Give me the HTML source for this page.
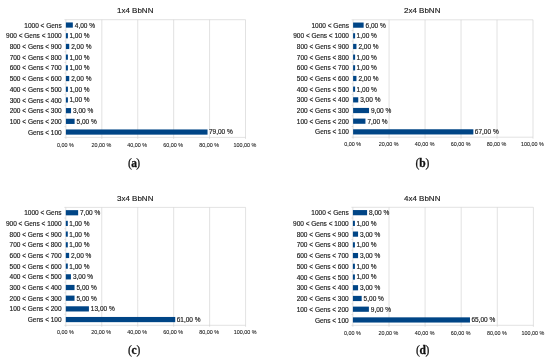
<!DOCTYPE html>
<html><head><meta charset="utf-8"><title>BbNN charts</title>
<style>html,body{margin:0;padding:0;background:#fff;width:550px;height:361px;overflow:hidden}</style>
</head><body>
<svg width="550" height="361" viewBox="0 0 550 361" style="display:block;position:absolute;left:0;top:0">
<rect width="550" height="361" fill="#fff"/>
<g font-family="Liberation Sans, Arial, sans-serif" fill="#1a1a1a" stroke="#1a1a1a" stroke-width="0.16" stroke-linejoin="round">
<line x1="65.90" y1="19.7" x2="65.90" y2="138.9" stroke="#cfcfcf" stroke-width="0.6"/>
<text x="65.40" y="146.60" font-size="5.4" text-anchor="middle" stroke-width="0.08">0,00 %</text>
<line x1="101.82" y1="19.7" x2="101.82" y2="138.9" stroke="#cfcfcf" stroke-width="0.6"/>
<text x="101.32" y="146.60" font-size="5.4" text-anchor="middle" stroke-width="0.08">20,00 %</text>
<line x1="137.74" y1="19.7" x2="137.74" y2="138.9" stroke="#cfcfcf" stroke-width="0.6"/>
<text x="137.24" y="146.60" font-size="5.4" text-anchor="middle" stroke-width="0.08">40,00 %</text>
<line x1="173.66" y1="19.7" x2="173.66" y2="138.9" stroke="#cfcfcf" stroke-width="0.6"/>
<text x="173.16" y="146.60" font-size="5.4" text-anchor="middle" stroke-width="0.08">60,00 %</text>
<line x1="209.58" y1="19.7" x2="209.58" y2="138.9" stroke="#cfcfcf" stroke-width="0.6"/>
<text x="209.08" y="146.60" font-size="5.4" text-anchor="middle" stroke-width="0.08">80,00 %</text>
<line x1="245.50" y1="19.7" x2="245.50" y2="138.9" stroke="#cfcfcf" stroke-width="0.6"/>
<text x="245.00" y="146.60" font-size="5.4" text-anchor="middle" stroke-width="0.08">100,00 %</text>
<line x1="65.9" y1="19.7" x2="245.5" y2="19.7" stroke="#cfcfcf" stroke-width="0.6"/>
<line x1="64.4" y1="137.4" x2="245.5" y2="137.4" stroke="#cfcfcf" stroke-width="0.6"/>
<line x1="64.4" y1="19.70" x2="65.9" y2="19.70" stroke="#cfcfcf" stroke-width="0.6"/>
<rect x="65.9" y="22.45" width="6.93" height="5.2" fill="#004586" stroke="none"/>
<text x="61.70" y="27.65" font-size="6.5" text-anchor="end">1000 &lt; Gens</text>
<text x="74.78" y="27.50" font-size="6.5">4,00 %</text>
<line x1="64.4" y1="30.40" x2="65.9" y2="30.40" stroke="#cfcfcf" stroke-width="0.6"/>
<rect x="65.9" y="33.15" width="2.00" height="5.2" fill="#004586" stroke="none"/>
<text x="61.70" y="38.35" font-size="6.5" text-anchor="end">900 &lt; Gens &lt; 1000</text>
<text x="69.40" y="38.20" font-size="6.5">1,00 %</text>
<line x1="64.4" y1="41.10" x2="65.9" y2="41.10" stroke="#cfcfcf" stroke-width="0.6"/>
<rect x="65.9" y="43.85" width="3.34" height="5.2" fill="#004586" stroke="none"/>
<text x="61.70" y="49.05" font-size="6.5" text-anchor="end">800 &lt; Gens &lt; 900</text>
<text x="71.19" y="48.90" font-size="6.5">2,00 %</text>
<line x1="64.4" y1="51.80" x2="65.9" y2="51.80" stroke="#cfcfcf" stroke-width="0.6"/>
<rect x="65.9" y="54.55" width="2.00" height="5.2" fill="#004586" stroke="none"/>
<text x="61.70" y="59.75" font-size="6.5" text-anchor="end">700 &lt; Gens &lt; 800</text>
<text x="69.40" y="59.60" font-size="6.5">1,00 %</text>
<line x1="64.4" y1="62.50" x2="65.9" y2="62.50" stroke="#cfcfcf" stroke-width="0.6"/>
<rect x="65.9" y="65.25" width="2.00" height="5.2" fill="#004586" stroke="none"/>
<text x="61.70" y="70.45" font-size="6.5" text-anchor="end">600 &lt; Gens &lt; 700</text>
<text x="69.40" y="70.30" font-size="6.5">1,00 %</text>
<line x1="64.4" y1="73.20" x2="65.9" y2="73.20" stroke="#cfcfcf" stroke-width="0.6"/>
<rect x="65.9" y="75.95" width="3.34" height="5.2" fill="#004586" stroke="none"/>
<text x="61.70" y="81.15" font-size="6.5" text-anchor="end">500 &lt; Gens &lt; 600</text>
<text x="71.19" y="81.00" font-size="6.5">2,00 %</text>
<line x1="64.4" y1="83.90" x2="65.9" y2="83.90" stroke="#cfcfcf" stroke-width="0.6"/>
<rect x="65.9" y="86.65" width="2.00" height="5.2" fill="#004586" stroke="none"/>
<text x="61.70" y="91.85" font-size="6.5" text-anchor="end">400 &lt; Gens &lt; 500</text>
<text x="69.40" y="91.70" font-size="6.5">1,00 %</text>
<line x1="64.4" y1="94.60" x2="65.9" y2="94.60" stroke="#cfcfcf" stroke-width="0.6"/>
<rect x="65.9" y="97.35" width="2.00" height="5.2" fill="#004586" stroke="none"/>
<text x="61.70" y="102.55" font-size="6.5" text-anchor="end">300 &lt; Gens &lt; 400</text>
<text x="69.40" y="102.40" font-size="6.5">1,00 %</text>
<line x1="64.4" y1="105.30" x2="65.9" y2="105.30" stroke="#cfcfcf" stroke-width="0.6"/>
<rect x="65.9" y="108.05" width="5.14" height="5.2" fill="#004586" stroke="none"/>
<text x="61.70" y="113.25" font-size="6.5" text-anchor="end">200 &lt; Gens &lt; 300</text>
<text x="72.99" y="113.10" font-size="6.5">3,00 %</text>
<line x1="64.4" y1="116.00" x2="65.9" y2="116.00" stroke="#cfcfcf" stroke-width="0.6"/>
<rect x="65.9" y="118.75" width="8.73" height="5.2" fill="#004586" stroke="none"/>
<text x="61.70" y="123.95" font-size="6.5" text-anchor="end">100 &lt; Gens &lt; 200</text>
<text x="76.58" y="123.80" font-size="6.5">5,00 %</text>
<line x1="64.4" y1="126.70" x2="65.9" y2="126.70" stroke="#cfcfcf" stroke-width="0.6"/>
<rect x="65.9" y="129.45" width="141.63" height="5.2" fill="#004586" stroke="none"/>
<text x="61.70" y="134.65" font-size="6.5" text-anchor="end">Gens &lt; 100</text>
<text x="208.98" y="134.25" font-size="6.5">79,00 %</text>
<text x="135.2" y="13.2" font-size="8.0" text-anchor="middle">1x4 BbNN</text>
</g>
<text x="133.7" y="167" font-family="Liberation Serif, DejaVu Serif, serif" font-weight="bold" font-size="11.5" letter-spacing="-0.7" text-anchor="middle" fill="#111"><tspan font-size="11.6" font-weight="normal" stroke="#111" stroke-width="0.22">(</tspan><tspan stroke="#111" stroke-width="0.3">a</tspan><tspan font-size="11.6" font-weight="normal" stroke="#111" stroke-width="0.22">)</tspan></text>
<g font-family="Liberation Sans, Arial, sans-serif" fill="#1a1a1a" stroke="#1a1a1a" stroke-width="0.16" stroke-linejoin="round">
<line x1="353.10" y1="19.8" x2="353.10" y2="138.7" stroke="#cfcfcf" stroke-width="0.6"/>
<text x="352.60" y="146.20" font-size="5.4" text-anchor="middle" stroke-width="0.08">0,00 %</text>
<line x1="389.08" y1="19.8" x2="389.08" y2="138.7" stroke="#cfcfcf" stroke-width="0.6"/>
<text x="388.58" y="146.20" font-size="5.4" text-anchor="middle" stroke-width="0.08">20,00 %</text>
<line x1="425.06" y1="19.8" x2="425.06" y2="138.7" stroke="#cfcfcf" stroke-width="0.6"/>
<text x="424.56" y="146.20" font-size="5.4" text-anchor="middle" stroke-width="0.08">40,00 %</text>
<line x1="461.04" y1="19.8" x2="461.04" y2="138.7" stroke="#cfcfcf" stroke-width="0.6"/>
<text x="460.54" y="146.20" font-size="5.4" text-anchor="middle" stroke-width="0.08">60,00 %</text>
<line x1="497.02" y1="19.8" x2="497.02" y2="138.7" stroke="#cfcfcf" stroke-width="0.6"/>
<text x="496.52" y="146.20" font-size="5.4" text-anchor="middle" stroke-width="0.08">80,00 %</text>
<line x1="533.00" y1="19.8" x2="533.00" y2="138.7" stroke="#cfcfcf" stroke-width="0.6"/>
<text x="532.50" y="146.20" font-size="5.4" text-anchor="middle" stroke-width="0.08">100,00 %</text>
<line x1="353.1" y1="19.8" x2="533.0" y2="19.8" stroke="#cfcfcf" stroke-width="0.6"/>
<line x1="351.6" y1="137.2" x2="533.0" y2="137.2" stroke="#cfcfcf" stroke-width="0.6"/>
<line x1="351.6" y1="19.80" x2="353.1" y2="19.80" stroke="#cfcfcf" stroke-width="0.6"/>
<rect x="353.1" y="22.54" width="10.54" height="5.2" fill="#004586" stroke="none"/>
<text x="348.90" y="27.74" font-size="6.5" text-anchor="end">1000 &lt; Gens</text>
<text x="365.59" y="27.59" font-size="6.5">6,00 %</text>
<line x1="351.6" y1="30.47" x2="353.1" y2="30.47" stroke="#cfcfcf" stroke-width="0.6"/>
<rect x="353.1" y="33.21" width="2.00" height="5.2" fill="#004586" stroke="none"/>
<text x="348.90" y="38.41" font-size="6.5" text-anchor="end">900 &lt; Gens &lt; 1000</text>
<text x="356.60" y="38.26" font-size="6.5">1,00 %</text>
<line x1="351.6" y1="41.15" x2="353.1" y2="41.15" stroke="#cfcfcf" stroke-width="0.6"/>
<rect x="353.1" y="43.88" width="3.35" height="5.2" fill="#004586" stroke="none"/>
<text x="348.90" y="49.08" font-size="6.5" text-anchor="end">800 &lt; Gens &lt; 900</text>
<text x="358.40" y="48.93" font-size="6.5">2,00 %</text>
<line x1="351.6" y1="51.82" x2="353.1" y2="51.82" stroke="#cfcfcf" stroke-width="0.6"/>
<rect x="353.1" y="54.55" width="2.00" height="5.2" fill="#004586" stroke="none"/>
<text x="348.90" y="59.75" font-size="6.5" text-anchor="end">700 &lt; Gens &lt; 800</text>
<text x="356.60" y="59.60" font-size="6.5">1,00 %</text>
<line x1="351.6" y1="62.49" x2="353.1" y2="62.49" stroke="#cfcfcf" stroke-width="0.6"/>
<rect x="353.1" y="65.23" width="2.00" height="5.2" fill="#004586" stroke="none"/>
<text x="348.90" y="70.43" font-size="6.5" text-anchor="end">600 &lt; Gens &lt; 700</text>
<text x="356.60" y="70.28" font-size="6.5">1,00 %</text>
<line x1="351.6" y1="73.16" x2="353.1" y2="73.16" stroke="#cfcfcf" stroke-width="0.6"/>
<rect x="353.1" y="75.90" width="3.35" height="5.2" fill="#004586" stroke="none"/>
<text x="348.90" y="81.10" font-size="6.5" text-anchor="end">500 &lt; Gens &lt; 600</text>
<text x="358.40" y="80.95" font-size="6.5">2,00 %</text>
<line x1="351.6" y1="83.84" x2="353.1" y2="83.84" stroke="#cfcfcf" stroke-width="0.6"/>
<rect x="353.1" y="86.57" width="2.00" height="5.2" fill="#004586" stroke="none"/>
<text x="348.90" y="91.77" font-size="6.5" text-anchor="end">400 &lt; Gens &lt; 500</text>
<text x="356.60" y="91.62" font-size="6.5">1,00 %</text>
<line x1="351.6" y1="94.51" x2="353.1" y2="94.51" stroke="#cfcfcf" stroke-width="0.6"/>
<rect x="353.1" y="97.25" width="5.15" height="5.2" fill="#004586" stroke="none"/>
<text x="348.90" y="102.45" font-size="6.5" text-anchor="end">300 &lt; Gens &lt; 400</text>
<text x="360.20" y="102.30" font-size="6.5">3,00 %</text>
<line x1="351.6" y1="105.18" x2="353.1" y2="105.18" stroke="#cfcfcf" stroke-width="0.6"/>
<rect x="353.1" y="107.92" width="15.94" height="5.2" fill="#004586" stroke="none"/>
<text x="348.90" y="113.12" font-size="6.5" text-anchor="end">200 &lt; Gens &lt; 300</text>
<text x="370.99" y="112.97" font-size="6.5">9,00 %</text>
<line x1="351.6" y1="115.85" x2="353.1" y2="115.85" stroke="#cfcfcf" stroke-width="0.6"/>
<rect x="353.1" y="118.59" width="12.34" height="5.2" fill="#004586" stroke="none"/>
<text x="348.90" y="123.79" font-size="6.5" text-anchor="end">100 &lt; Gens &lt; 200</text>
<text x="367.39" y="123.64" font-size="6.5">7,00 %</text>
<line x1="351.6" y1="126.53" x2="353.1" y2="126.53" stroke="#cfcfcf" stroke-width="0.6"/>
<rect x="353.1" y="129.26" width="120.28" height="5.2" fill="#004586" stroke="none"/>
<text x="348.90" y="134.46" font-size="6.5" text-anchor="end">Gens &lt; 100</text>
<text x="474.83" y="134.06" font-size="6.5">67,00 %</text>
<text x="422.2" y="13.4" font-size="8.0" text-anchor="middle">2x4 BbNN</text>
</g>
<text x="422.3" y="166.5" font-family="Liberation Serif, DejaVu Serif, serif" font-weight="bold" font-size="11.5" letter-spacing="-0.1" text-anchor="middle" fill="#111"><tspan font-size="11.6" font-weight="normal" stroke="#111" stroke-width="0.22">(</tspan><tspan stroke="#111" stroke-width="0.3">b</tspan><tspan font-size="11.6" font-weight="normal" stroke="#111" stroke-width="0.22">)</tspan></text>
<g font-family="Liberation Sans, Arial, sans-serif" fill="#1a1a1a" stroke="#1a1a1a" stroke-width="0.16" stroke-linejoin="round">
<line x1="65.80" y1="207.4" x2="65.80" y2="326.79999999999995" stroke="#cfcfcf" stroke-width="0.6"/>
<text x="65.30" y="334.20" font-size="5.4" text-anchor="middle" stroke-width="0.08">0,00 %</text>
<line x1="101.76" y1="207.4" x2="101.76" y2="326.79999999999995" stroke="#cfcfcf" stroke-width="0.6"/>
<text x="101.26" y="334.20" font-size="5.4" text-anchor="middle" stroke-width="0.08">20,00 %</text>
<line x1="137.72" y1="207.4" x2="137.72" y2="326.79999999999995" stroke="#cfcfcf" stroke-width="0.6"/>
<text x="137.22" y="334.20" font-size="5.4" text-anchor="middle" stroke-width="0.08">40,00 %</text>
<line x1="173.68" y1="207.4" x2="173.68" y2="326.79999999999995" stroke="#cfcfcf" stroke-width="0.6"/>
<text x="173.18" y="334.20" font-size="5.4" text-anchor="middle" stroke-width="0.08">60,00 %</text>
<line x1="209.64" y1="207.4" x2="209.64" y2="326.79999999999995" stroke="#cfcfcf" stroke-width="0.6"/>
<text x="209.14" y="334.20" font-size="5.4" text-anchor="middle" stroke-width="0.08">80,00 %</text>
<line x1="245.60" y1="207.4" x2="245.60" y2="326.79999999999995" stroke="#cfcfcf" stroke-width="0.6"/>
<text x="245.10" y="334.20" font-size="5.4" text-anchor="middle" stroke-width="0.08">100,00 %</text>
<line x1="65.8" y1="207.4" x2="245.6" y2="207.4" stroke="#cfcfcf" stroke-width="0.6"/>
<line x1="64.3" y1="325.29999999999995" x2="245.6" y2="325.29999999999995" stroke="#cfcfcf" stroke-width="0.6"/>
<line x1="64.3" y1="207.40" x2="65.8" y2="207.40" stroke="#cfcfcf" stroke-width="0.6"/>
<rect x="65.8" y="210.14" width="12.34" height="5.2" fill="#004586" stroke="none"/>
<text x="61.60" y="215.34" font-size="6.5" text-anchor="end">1000 &lt; Gens</text>
<text x="80.09" y="215.19" font-size="6.5">7,00 %</text>
<line x1="64.3" y1="218.08" x2="65.8" y2="218.08" stroke="#cfcfcf" stroke-width="0.6"/>
<rect x="65.8" y="220.82" width="2.00" height="5.2" fill="#004586" stroke="none"/>
<text x="61.60" y="226.02" font-size="6.5" text-anchor="end">900 &lt; Gens &lt; 1000</text>
<text x="69.30" y="225.87" font-size="6.5">1,00 %</text>
<line x1="64.3" y1="228.76" x2="65.8" y2="228.76" stroke="#cfcfcf" stroke-width="0.6"/>
<rect x="65.8" y="231.50" width="2.00" height="5.2" fill="#004586" stroke="none"/>
<text x="61.60" y="236.70" font-size="6.5" text-anchor="end">800 &lt; Gens &lt; 900</text>
<text x="69.30" y="236.55" font-size="6.5">1,00 %</text>
<line x1="64.3" y1="239.45" x2="65.8" y2="239.45" stroke="#cfcfcf" stroke-width="0.6"/>
<rect x="65.8" y="242.19" width="2.00" height="5.2" fill="#004586" stroke="none"/>
<text x="61.60" y="247.39" font-size="6.5" text-anchor="end">700 &lt; Gens &lt; 800</text>
<text x="69.30" y="247.24" font-size="6.5">1,00 %</text>
<line x1="64.3" y1="250.13" x2="65.8" y2="250.13" stroke="#cfcfcf" stroke-width="0.6"/>
<rect x="65.8" y="252.87" width="3.35" height="5.2" fill="#004586" stroke="none"/>
<text x="61.60" y="258.07" font-size="6.5" text-anchor="end">600 &lt; Gens &lt; 700</text>
<text x="71.10" y="257.92" font-size="6.5">2,00 %</text>
<line x1="64.3" y1="260.81" x2="65.8" y2="260.81" stroke="#cfcfcf" stroke-width="0.6"/>
<rect x="65.8" y="263.55" width="2.00" height="5.2" fill="#004586" stroke="none"/>
<text x="61.60" y="268.75" font-size="6.5" text-anchor="end">500 &lt; Gens &lt; 600</text>
<text x="69.30" y="268.60" font-size="6.5">1,00 %</text>
<line x1="64.3" y1="271.49" x2="65.8" y2="271.49" stroke="#cfcfcf" stroke-width="0.6"/>
<rect x="65.8" y="274.23" width="5.14" height="5.2" fill="#004586" stroke="none"/>
<text x="61.60" y="279.43" font-size="6.5" text-anchor="end">400 &lt; Gens &lt; 500</text>
<text x="72.89" y="279.28" font-size="6.5">3,00 %</text>
<line x1="64.3" y1="282.17" x2="65.8" y2="282.17" stroke="#cfcfcf" stroke-width="0.6"/>
<rect x="65.8" y="284.91" width="8.74" height="5.2" fill="#004586" stroke="none"/>
<text x="61.60" y="290.11" font-size="6.5" text-anchor="end">300 &lt; Gens &lt; 400</text>
<text x="76.49" y="289.96" font-size="6.5">5,00 %</text>
<line x1="64.3" y1="292.85" x2="65.8" y2="292.85" stroke="#cfcfcf" stroke-width="0.6"/>
<rect x="65.8" y="295.60" width="8.74" height="5.2" fill="#004586" stroke="none"/>
<text x="61.60" y="300.80" font-size="6.5" text-anchor="end">200 &lt; Gens &lt; 300</text>
<text x="76.49" y="300.65" font-size="6.5">5,00 %</text>
<line x1="64.3" y1="303.54" x2="65.8" y2="303.54" stroke="#cfcfcf" stroke-width="0.6"/>
<rect x="65.8" y="306.28" width="23.12" height="5.2" fill="#004586" stroke="none"/>
<text x="61.60" y="311.48" font-size="6.5" text-anchor="end">100 &lt; Gens &lt; 200</text>
<text x="90.87" y="311.33" font-size="6.5">13,00 %</text>
<line x1="64.3" y1="314.22" x2="65.8" y2="314.22" stroke="#cfcfcf" stroke-width="0.6"/>
<rect x="65.8" y="316.96" width="109.43" height="5.2" fill="#004586" stroke="none"/>
<text x="61.60" y="322.16" font-size="6.5" text-anchor="end">Gens &lt; 100</text>
<text x="176.68" y="321.76" font-size="6.5">61,00 %</text>
<text x="135.2" y="201.0" font-size="8.0" text-anchor="middle">3x4 BbNN</text>
</g>
<text x="134.0" y="354.3" font-family="Liberation Serif, DejaVu Serif, serif" font-weight="bold" font-size="11.5" letter-spacing="-0.35" text-anchor="middle" fill="#111"><tspan font-size="11.6" font-weight="normal" stroke="#111" stroke-width="0.22">(</tspan><tspan stroke="#111" stroke-width="0.3">c</tspan><tspan font-size="11.6" font-weight="normal" stroke="#111" stroke-width="0.22">)</tspan></text>
<g font-family="Liberation Sans, Arial, sans-serif" fill="#1a1a1a" stroke="#1a1a1a" stroke-width="0.16" stroke-linejoin="round">
<line x1="352.90" y1="207.3" x2="352.90" y2="326.8" stroke="#cfcfcf" stroke-width="0.6"/>
<text x="352.40" y="334.60" font-size="5.4" text-anchor="middle" stroke-width="0.08">0,00 %</text>
<line x1="389.00" y1="207.3" x2="389.00" y2="326.8" stroke="#cfcfcf" stroke-width="0.6"/>
<text x="388.50" y="334.60" font-size="5.4" text-anchor="middle" stroke-width="0.08">20,00 %</text>
<line x1="425.10" y1="207.3" x2="425.10" y2="326.8" stroke="#cfcfcf" stroke-width="0.6"/>
<text x="424.60" y="334.60" font-size="5.4" text-anchor="middle" stroke-width="0.08">40,00 %</text>
<line x1="461.20" y1="207.3" x2="461.20" y2="326.8" stroke="#cfcfcf" stroke-width="0.6"/>
<text x="460.70" y="334.60" font-size="5.4" text-anchor="middle" stroke-width="0.08">60,00 %</text>
<line x1="497.30" y1="207.3" x2="497.30" y2="326.8" stroke="#cfcfcf" stroke-width="0.6"/>
<text x="496.80" y="334.60" font-size="5.4" text-anchor="middle" stroke-width="0.08">80,00 %</text>
<line x1="533.40" y1="207.3" x2="533.40" y2="326.8" stroke="#cfcfcf" stroke-width="0.6"/>
<text x="532.90" y="334.60" font-size="5.4" text-anchor="middle" stroke-width="0.08">100,00 %</text>
<line x1="352.9" y1="207.3" x2="533.4" y2="207.3" stroke="#cfcfcf" stroke-width="0.6"/>
<line x1="351.4" y1="325.3" x2="533.4" y2="325.3" stroke="#cfcfcf" stroke-width="0.6"/>
<line x1="351.4" y1="207.30" x2="352.9" y2="207.30" stroke="#cfcfcf" stroke-width="0.6"/>
<rect x="352.9" y="210.06" width="14.19" height="5.2" fill="#004586" stroke="none"/>
<text x="348.70" y="215.26" font-size="6.5" text-anchor="end">1000 &lt; Gens</text>
<text x="369.04" y="215.11" font-size="6.5">8,00 %</text>
<line x1="351.4" y1="218.03" x2="352.9" y2="218.03" stroke="#cfcfcf" stroke-width="0.6"/>
<rect x="352.9" y="220.79" width="2.00" height="5.2" fill="#004586" stroke="none"/>
<text x="348.70" y="225.99" font-size="6.5" text-anchor="end">900 &lt; Gens &lt; 1000</text>
<text x="356.40" y="225.84" font-size="6.5">1,00 %</text>
<line x1="351.4" y1="228.75" x2="352.9" y2="228.75" stroke="#cfcfcf" stroke-width="0.6"/>
<rect x="352.9" y="231.52" width="5.17" height="5.2" fill="#004586" stroke="none"/>
<text x="348.70" y="236.72" font-size="6.5" text-anchor="end">800 &lt; Gens &lt; 900</text>
<text x="360.01" y="236.57" font-size="6.5">3,00 %</text>
<line x1="351.4" y1="239.48" x2="352.9" y2="239.48" stroke="#cfcfcf" stroke-width="0.6"/>
<rect x="352.9" y="242.25" width="2.00" height="5.2" fill="#004586" stroke="none"/>
<text x="348.70" y="247.45" font-size="6.5" text-anchor="end">700 &lt; Gens &lt; 800</text>
<text x="356.40" y="247.30" font-size="6.5">1,00 %</text>
<line x1="351.4" y1="250.21" x2="352.9" y2="250.21" stroke="#cfcfcf" stroke-width="0.6"/>
<rect x="352.9" y="252.97" width="5.17" height="5.2" fill="#004586" stroke="none"/>
<text x="348.70" y="258.17" font-size="6.5" text-anchor="end">600 &lt; Gens &lt; 700</text>
<text x="360.01" y="258.02" font-size="6.5">3,00 %</text>
<line x1="351.4" y1="260.94" x2="352.9" y2="260.94" stroke="#cfcfcf" stroke-width="0.6"/>
<rect x="352.9" y="263.70" width="2.00" height="5.2" fill="#004586" stroke="none"/>
<text x="348.70" y="268.90" font-size="6.5" text-anchor="end">500 &lt; Gens &lt; 600</text>
<text x="356.40" y="268.75" font-size="6.5">1,00 %</text>
<line x1="351.4" y1="271.66" x2="352.9" y2="271.66" stroke="#cfcfcf" stroke-width="0.6"/>
<rect x="352.9" y="274.43" width="2.00" height="5.2" fill="#004586" stroke="none"/>
<text x="348.70" y="279.63" font-size="6.5" text-anchor="end">400 &lt; Gens &lt; 500</text>
<text x="356.40" y="279.48" font-size="6.5">1,00 %</text>
<line x1="351.4" y1="282.39" x2="352.9" y2="282.39" stroke="#cfcfcf" stroke-width="0.6"/>
<rect x="352.9" y="285.15" width="5.17" height="5.2" fill="#004586" stroke="none"/>
<text x="348.70" y="290.35" font-size="6.5" text-anchor="end">300 &lt; Gens &lt; 400</text>
<text x="360.01" y="290.20" font-size="6.5">3,00 %</text>
<line x1="351.4" y1="293.12" x2="352.9" y2="293.12" stroke="#cfcfcf" stroke-width="0.6"/>
<rect x="352.9" y="295.88" width="8.78" height="5.2" fill="#004586" stroke="none"/>
<text x="348.70" y="301.08" font-size="6.5" text-anchor="end">200 &lt; Gens &lt; 300</text>
<text x="363.62" y="300.93" font-size="6.5">5,00 %</text>
<line x1="351.4" y1="303.85" x2="352.9" y2="303.85" stroke="#cfcfcf" stroke-width="0.6"/>
<rect x="352.9" y="306.61" width="16.00" height="5.2" fill="#004586" stroke="none"/>
<text x="348.70" y="311.81" font-size="6.5" text-anchor="end">100 &lt; Gens &lt; 200</text>
<text x="370.84" y="311.66" font-size="6.5">9,00 %</text>
<line x1="351.4" y1="314.57" x2="352.9" y2="314.57" stroke="#cfcfcf" stroke-width="0.6"/>
<rect x="352.9" y="317.34" width="117.08" height="5.2" fill="#004586" stroke="none"/>
<text x="348.70" y="322.54" font-size="6.5" text-anchor="end">Gens &lt; 100</text>
<text x="471.42" y="322.14" font-size="6.5">65,00 %</text>
<text x="422.2" y="200.6" font-size="8.0" text-anchor="middle">4x4 BbNN</text>
</g>
<text x="422.4" y="354.3" font-family="Liberation Serif, DejaVu Serif, serif" font-weight="bold" font-size="11.5" letter-spacing="-0.45" text-anchor="middle" fill="#111"><tspan font-size="11.6" font-weight="normal" stroke="#111" stroke-width="0.22">(</tspan><tspan stroke="#111" stroke-width="0.3">d</tspan><tspan font-size="11.6" font-weight="normal" stroke="#111" stroke-width="0.22">)</tspan></text>
</svg>
</body></html>
